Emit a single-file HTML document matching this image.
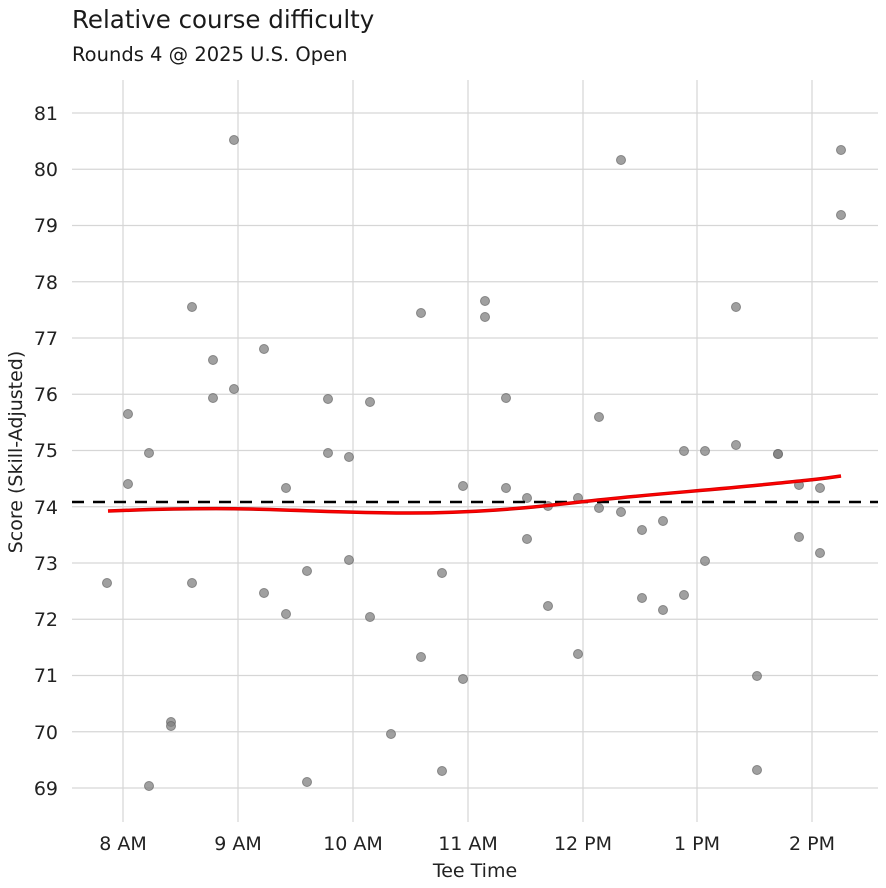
<!DOCTYPE html>
<html><head><meta charset="utf-8"><style>
body{margin:0;background:#fff;}
svg{display:block;font-family:"DejaVu Sans","Liberation Sans",sans-serif;}
</style></head><body>
<svg width="886" height="888" viewBox="0 0 886 888" xmlns="http://www.w3.org/2000/svg">
<rect width="886" height="888" fill="#fff"/>
<text x="72" y="28" font-size="24.5" fill="#1a1a1a">Relative course difficulty</text>
<text x="72" y="61" font-size="19.5" fill="#1a1a1a">Rounds 4 @ 2025 U.S. Open</text>
<g stroke="#d6d6d6" stroke-width="1.2">
<line x1="72" x2="878" y1="113" y2="113"/><line x1="72" x2="878" y1="169.25" y2="169.25"/>
<line x1="72" x2="878" y1="225.5" y2="225.5"/><line x1="72" x2="878" y1="281.75" y2="281.75"/>
<line x1="72" x2="878" y1="338" y2="338"/><line x1="72" x2="878" y1="394.25" y2="394.25"/>
<line x1="72" x2="878" y1="450.5" y2="450.5"/><line x1="72" x2="878" y1="506.75" y2="506.75"/>
<line x1="72" x2="878" y1="563" y2="563"/><line x1="72" x2="878" y1="619.25" y2="619.25"/>
<line x1="72" x2="878" y1="675.5" y2="675.5"/><line x1="72" x2="878" y1="731.75" y2="731.75"/>
<line x1="72" x2="878" y1="788" y2="788"/>
<line y1="80" y2="822" x1="123" x2="123"/><line y1="80" y2="822" x1="238" x2="238"/>
<line y1="80" y2="822" x1="353" x2="353"/><line y1="80" y2="822" x1="468" x2="468"/>
<line y1="80" y2="822" x1="583" x2="583"/><line y1="80" y2="822" x1="697" x2="697"/>
<line y1="80" y2="822" x1="812" x2="812"/>
</g>
<g font-size="19" fill="#222" text-anchor="end">
<text x="58" y="120">81</text><text x="58" y="176">80</text><text x="58" y="232">79</text>
<text x="58" y="289">78</text><text x="58" y="345">77</text><text x="58" y="401">76</text>
<text x="58" y="457">75</text><text x="58" y="514">74</text><text x="58" y="570">73</text>
<text x="58" y="626">72</text><text x="58" y="682">71</text><text x="58" y="739">70</text>
<text x="58" y="795">69</text>
</g>
<g font-size="19" fill="#222" text-anchor="middle">
<text x="123" y="850">8 AM</text><text x="238" y="850">9 AM</text><text x="353" y="850">10 AM</text>
<text x="468" y="850">11 AM</text><text x="583" y="850">12 PM</text><text x="697" y="850">1 PM</text>
<text x="812" y="850">2 PM</text>
<text x="475" y="877">Tee Time</text>
</g>
<text transform="translate(22,452) rotate(-90)" font-size="19" fill="#222" text-anchor="middle">Score (Skill-Adjusted)</text>
<g fill="#808080" fill-opacity="0.75" stroke="#666" stroke-opacity="0.7" stroke-width="1">
<circle cx="107" cy="583" r="4.5"/><circle cx="128" cy="414" r="4.5"/><circle cx="128" cy="484" r="4.5"/>
<circle cx="149" cy="453" r="4.5"/><circle cx="149" cy="786" r="4.5"/><circle cx="171" cy="722" r="4.5"/>
<circle cx="171" cy="726" r="4.5"/><circle cx="192" cy="307" r="4.5"/><circle cx="192" cy="583" r="4.5"/>
<circle cx="213" cy="360" r="4.5"/><circle cx="213" cy="398" r="4.5"/><circle cx="234" cy="140" r="4.5"/>
<circle cx="234" cy="389" r="4.5"/><circle cx="264" cy="349" r="4.5"/><circle cx="264" cy="593" r="4.5"/>
<circle cx="286" cy="488" r="4.5"/><circle cx="286" cy="614" r="4.5"/><circle cx="307" cy="571" r="4.5"/>
<circle cx="307" cy="782" r="4.5"/><circle cx="328" cy="399" r="4.5"/><circle cx="328" cy="453" r="4.5"/>
<circle cx="349" cy="457" r="4.5"/><circle cx="349" cy="560" r="4.5"/><circle cx="370" cy="402" r="4.5"/>
<circle cx="370" cy="617" r="4.5"/><circle cx="391" cy="734" r="4.5"/><circle cx="421" cy="313" r="4.5"/>
<circle cx="421" cy="657" r="4.5"/><circle cx="442" cy="771" r="4.5"/><circle cx="442" cy="573" r="4.5"/>
<circle cx="463" cy="486" r="4.5"/><circle cx="463" cy="679" r="4.5"/><circle cx="485" cy="301" r="4.5"/>
<circle cx="485" cy="317" r="4.5"/><circle cx="506" cy="398" r="4.5"/><circle cx="506" cy="488" r="4.5"/>
<circle cx="527" cy="498" r="4.5"/><circle cx="527" cy="539" r="4.5"/><circle cx="548" cy="506" r="4.5"/>
<circle cx="548" cy="606" r="4.5"/><circle cx="578" cy="498" r="4.5"/><circle cx="578" cy="654" r="4.5"/>
<circle cx="599" cy="417" r="4.5"/><circle cx="599" cy="508" r="4.5"/><circle cx="621" cy="160" r="4.5"/>
<circle cx="621" cy="512" r="4.5"/><circle cx="642" cy="530" r="4.5"/><circle cx="642" cy="598" r="4.5"/>
<circle cx="663" cy="521" r="4.5"/><circle cx="663" cy="610" r="4.5"/><circle cx="684" cy="451" r="4.5"/>
<circle cx="684" cy="595" r="4.5"/><circle cx="705" cy="451" r="4.5"/><circle cx="705" cy="561" r="4.5"/>
<circle cx="736" cy="307" r="4.5"/><circle cx="736" cy="445" r="4.5"/><circle cx="757" cy="676" r="4.5"/>
<circle cx="757" cy="770" r="4.5"/><circle cx="778" cy="454" r="4.5"/><circle cx="778" cy="454" r="4.5"/>
<circle cx="799" cy="485" r="4.5"/><circle cx="799" cy="537" r="4.5"/><circle cx="820" cy="488" r="4.5"/>
<circle cx="820" cy="553" r="4.5"/><circle cx="841" cy="150" r="4.5"/><circle cx="841" cy="215" r="4.5"/>
</g>
<line x1="72" x2="878" y1="502" y2="502" stroke="#000" stroke-width="2.5" stroke-dasharray="12,9"/>
<path d="M108,511 C160,509 200,508 250,509 S350,513 410,513 S520,509 580,502 S700,491 760,485 S820,479 841,476" fill="none" stroke="#cc0000" stroke-width="3.5"/>
<path d="M108,511 C160,509 200,508 250,509 S350,513 410,513 S520,509 580,502 S700,491 760,485 S820,479 841,476" fill="none" stroke="#ff0000" stroke-width="2"/>
</svg>
</body></html>
